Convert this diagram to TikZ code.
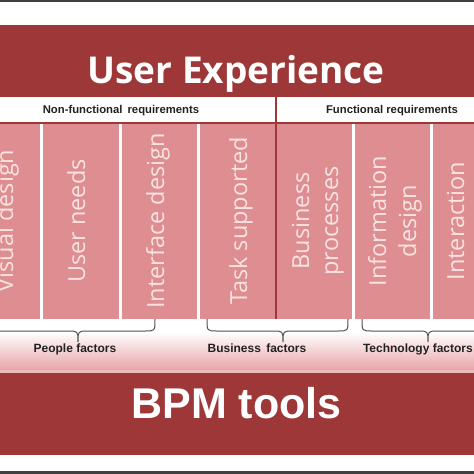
\documentclass[tikz,border=0pt]{standalone}
\usepackage{fontspec}
\setmainfont{Liberation Sans}
\newfontfamily\osans{Open Sans}
\definecolor{dred}{HTML}{9E3838}
\definecolor{colpink}{HTML}{DE8D90}
\definecolor{coltext}{HTML}{FAE3E3}
\definecolor{gradpink}{HTML}{E6A2A5}
\definecolor{lightline}{HTML}{EDB9BA}
\definecolor{barg}{HTML}{404040}
\definecolor{labtext}{HTML}{222222}
\definecolor{bracegray}{HTML}{505050}
\tikzset{
  coltxt/.style={rotate=90, anchor=base, text=coltext, inner sep=0pt,
    font=\osans\fontsize{23.5}{30}\selectfont, align=center},
  hdrtxt/.style={anchor=base, text=labtext, inner sep=0pt,
    font=\bfseries\fontsize{11.3}{13}\selectfont},
  factxt/.style={anchor=base, text=labtext, inner sep=0pt,
    font=\bfseries\fontsize{12}{14}\selectfont},
  bracestyle/.style={draw=bracegray, line width=1pt},
  sepline/.style={draw=white, line width=3pt},
}
\begin{document}
\begin{tikzpicture}[x=1pt,y=-1pt]
\useasboundingbox (0,0) rectangle (474,474);
\clip (0,0) rectangle (474,474);
\fill[white] (0,0) rectangle (474,474);
% top and bottom gray bars
\fill[barg] (0,0) rectangle (474,2);
\fill[barg] (0,471) rectangle (474,474);
% User Experience band
\fill[dred] (0,25) rectangle (474,97);
\node[anchor=base, text=white, inner sep=0pt, font=\osans\bfseries\fontsize{37}{40}\selectfont] (title) at (236,83) {User Experience};
% header row
\fill[white] (0,97) rectangle (474,122);
\fill[dred] (0,122) rectangle (474,123.5);
\node[hdrtxt] (nfr) at (121,113) {Non-functional\, requirements};
\node[hdrtxt] (fr) at (392,113) {Functional requirements};
% columns
\fill[colpink] (0,123.5) rectangle (474,319);
\draw[sepline] (41.5,123.5) -- (41.5,319);
\draw[sepline] (120,123.5) -- (120,319);
\draw[sepline] (198.5,123.5) -- (198.5,319);
\draw[sepline] (353,123.5) -- (353,319);
\draw[sepline] (431.5,123.5) -- (431.5,319);
\draw[dred, line width=1.5pt] (276,97) -- (276,319);
% column texts
\node[coltxt] (c1) at (13,221) {Visual design};
\node[coltxt] (c2) at (85,221) {User needs};
\node[coltxt] (c3) at (164,221) {Interface design};
\node[coltxt] (c4) at (247,221) {Task supported};
\node[coltxt] (c5a) at (309,221) {Business};
\node[coltxt] (c5b) at (338,221) {processes};
\node[coltxt] (c6a) at (386,221) {Information};
\node[coltxt] (c6b) at (416,221) {design};
\node[coltxt] (c7) at (464,221) {Interaction};
% lower gradient area
\shade[top color=white, bottom color=gradpink] (0,332) rectangle (474,371);
\fill[lightline] (0,370) rectangle (474,373);
% braces
\draw[bracestyle] (-20,319) .. controls (-20,331) .. (-10,331) -- (68,331) .. controls (78,331) .. (78,342) .. controls (78,331) .. (88,331) -- (145,331) .. controls (155,331) .. (155,319);
\draw[bracestyle] (207,319) .. controls (207,331) .. (217,331) -- (273,331) .. controls (283,331) .. (283,342) .. controls (283,331) .. (293,331) -- (338,331) .. controls (348,331) .. (348,319);
\draw[bracestyle] (362,319) .. controls (362,331) .. (372,331) -- (418,331) .. controls (428,331) .. (428,342) .. controls (428,331) .. (438,331) -- (510,331) .. controls (520,331) .. (520,319);
\node[factxt] (people) at (75,352) {People factors};
\node[factxt] (business) at (257,352) {Business\, factors};
\node[factxt, anchor=base east] (technology) at (473,352) {Technology factors};
% BPM tools band
\fill[dred] (0,373) rectangle (474,455);
\node[anchor=base, text=white, inner sep=0pt, font=\bfseries\fontsize{43}{46}\selectfont] (bpm) at (236.5,418) {BPM tools};
\end{tikzpicture}
\end{document}
